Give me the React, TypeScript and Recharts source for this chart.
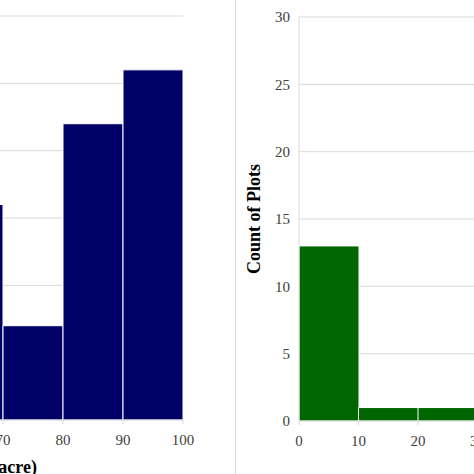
import { BarChart, Bar, XAxis, YAxis, CartesianGrid, Label } from "recharts";

// y scale shared by both panels
const countTicks = [0, 5, 10, 15, 20, 25, 30];

// left panel: plot area bins (only the visible part of the figure)
const areaBinMids = [65, 75, 85, 95];
const areaCounts = [16, 7, 22, 26];
const areaTicks = [60, 70, 80, 90, 100];

// right panel
const plotBinMids = [5, 15, 25];
const plotCounts = [13, 1, 1];
const plotTicks = [0, 10, 20, 30, 40];

const areaData = areaBinMids.map((mid, i) => ({ mid, count: areaCounts[i] }));
const plotData = plotBinMids.map((mid, i) => ({ mid, count: plotCounts[i] }));

const font = '"Liberation Serif", "Times New Roman", serif';
const tickStyle = { fill: "#404040", fontSize: 15, fontFamily: font, style: { fontFamily: font } };
const grid = "#d9d9d9";

export default function App() {
    return (
        <div
            style={{
                position: "absolute",
                left: 0,
                top: 0,
                width: 474,
                height: 474,
                overflow: "hidden",
                background: "#fff",
                fontFamily: font,
            }}
        >
            {/* left histogram, cropped */}
            <div style={{ position: "absolute", left: -57, top: 11 }}>
                <BarChart
                    width={270}
                    height={439}
                    data={areaData}
                    margin={{ top: 5, right: 30, bottom: 0, left: 0 }}
                    barCategoryGap={0}
                    barGap={0}
                    style={{ fontFamily: font }}
                >
                    <CartesianGrid vertical={false} stroke={grid} />
                    <XAxis
                        type="number"
                        dataKey="mid"
                        domain={[60, 100]}
                        ticks={areaTicks}
                        interval={0}
                        allowDataOverflow
                        height={30}
                        stroke={grid}
                        tickSize={4}
                        tickMargin={10}
                        tick={tickStyle}
                    />
                    <YAxis hide domain={[0, 30]} ticks={countTicks} />
                    <Bar dataKey="count" fill="#000066" stroke="#fff" strokeWidth={1} isAnimationActive={false} />
                </BarChart>
            </div>

            <div
                style={{
                    position: "absolute",
                    right: 437,
                    top: 456,
                    fontWeight: "bold",
                    fontSize: 18,
                    color: "#000",
                    whiteSpace: "nowrap",
                    lineHeight: "22px",
                }}
            >
                Plot Area (acre)
            </div>

            {/* panel border */}
            <div style={{ position: "absolute", left: 235, top: 0, width: 1, height: 474, background: grid }} />

            {/* right histogram, cropped */}
            <div style={{ position: "absolute", left: 235, top: 12 }}>
                <BarChart
                    width={302}
                    height={439}
                    data={plotData}
                    margin={{ top: 5, right: 0, bottom: 0, left: 0 }}
                    barCategoryGap={0}
                    barGap={0}
                    style={{ fontFamily: font }}
                >
                    <CartesianGrid vertical={false} stroke={grid} />
                    <XAxis
                        type="number"
                        dataKey="mid"
                        domain={[0, 40]}
                        ticks={plotTicks}
                        interval={0}
                        allowDataOverflow
                        height={30}
                        stroke={grid}
                        tickSize={4}
                        tickMargin={10}
                        tick={tickStyle}
                    />
                    <YAxis
                        width={64}
                        domain={[0, 30]}
                        ticks={countTicks}
                        interval={0}
                        stroke={grid}
                        tickLine={false}
                        tickSize={6}
                        tickMargin={3}
                        tick={tickStyle}
                    >
                        <Label
                            value="Count of Plots"
                            angle={-90}
                            position="center"
                            dx={-13}
                            style={{ fill: "#000", fontSize: 18, fontWeight: "bold", fontFamily: font }}
                        />
                    </YAxis>
                    <Bar dataKey="count" fill="#006600" stroke="#fff" strokeWidth={1} isAnimationActive={false} />
                </BarChart>
            </div>
        </div>
    );
}
